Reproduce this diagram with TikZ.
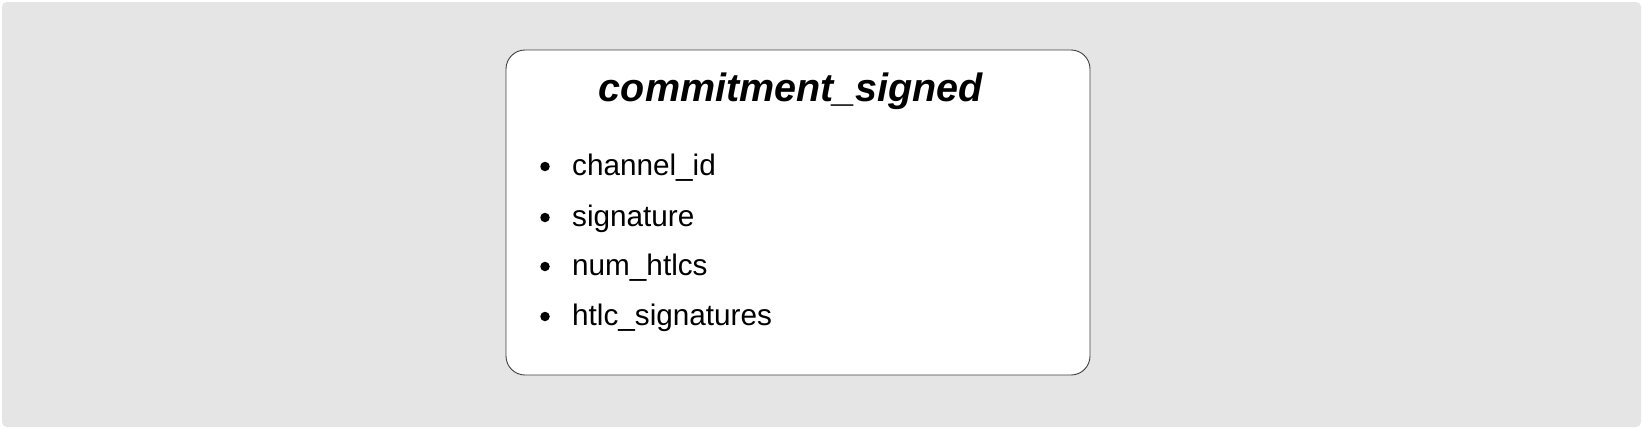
\documentclass[tikz,border=0pt]{standalone}
\usepackage{fontspec}
\setmainfont{Liberation Sans}
\begin{document}
\begin{tikzpicture}[x=1pt,y=-1pt,
  bg/.style={fill=black!10, draw=none, rounded corners=5pt},
  card/.style={fill=white, draw=black!75, line width=0.9pt, rounded corners=19pt},
  title/.style={font=\fontsize{39.5}{44}\selectfont\bfseries\itshape, anchor=base, inner sep=0pt},
  item/.style={font=\fontsize{29.7}{34}\selectfont, anchor=base west, inner sep=0pt},
  dot/.style={circle, fill=black, inner sep=0pt, minimum size=9.5pt}]
\useasboundingbox (0,0) rectangle (1643,429);
\fill[white] (0,0) rectangle (1643,429);
\path[bg] (2,2) rectangle (1641,427);
\path[card] (506,50) rectangle (1090,375);
\node[title] (t) at (791,101) {commitment\_signed};
\node[item] (i1) at (572,175.5) {channel\_id};
\node[item] (i2) at (572,226.5) {signature};
\node[item] (i3) at (572,275.5) {num\_htlcs};
\node[item] (i4) at (572,325.5) {htlc\_signatures};
\node[dot] (d1) at (545,166.5) {};
\node[dot] (d2) at (545,217.5) {};
\node[dot] (d3) at (545,266.5) {};
\node[dot] (d4) at (545,316.5) {};
\end{tikzpicture}
\end{document}
